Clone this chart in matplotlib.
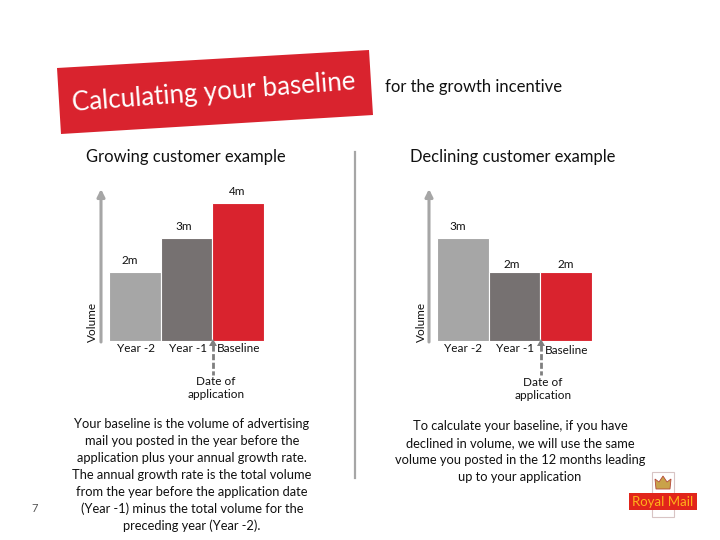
import matplotlib
matplotlib.use('Agg')
import matplotlib.pyplot as plt
from matplotlib.patches import Polygon, Rectangle

plt.rcParams['font.family'] = ['Lato', 'DejaVu Sans']

categories = ['Year -2', 'Year -1', 'Baseline']
growing_values = [2, 3, 4]
declining_values = [3, 2, 2]
growing_labels = ['2m', '3m', '4m']
declining_labels = ['3m', '2m', '2m']
bar_colors = ['#a6a6a6', '#767171', '#d9232e']

RED = '#d9232e'
GREY = '#a6a6a6'
TEXT = '#111111'

W, H = 720, 540
fig = plt.figure(figsize=(7.2, 5.4), dpi=100)


def px_axes(x0, y0, x1, y1):
    # pixel box measured from the top left corner
    return fig.add_axes([x0 / W, 1 - y1 / H, (x1 - x0) / W, (y1 - y0) / H])


def draw_bars(ax, values, labels, label_dx, label_dy):
    ax.bar(range(3), values, width=1.0, color=bar_colors, edgecolor='white', linewidth=0.8)
    ax.set_xlim(-0.5, 2.5)
    ax.set_ylim(0, 4)
    ax.axis('off')
    for i, (v, lab) in enumerate(zip(values, labels)):
        ax.annotate(lab, (i, v), xytext=(label_dx[i], label_dy[i]), textcoords='offset pixels',
                    ha='center', va='center', fontsize=8.5, color=TEXT, annotation_clip=False)


ax_left = px_axes(109, 203, 264, 341)
draw_bars(ax_left, growing_values, growing_labels, [-5, -3, -1], [12, 11, 12])

ax_right = px_axes(437, 203, 592, 341)
draw_bars(ax_right, declining_values, declining_labels, [-5, -3, 0], [11, 8, 8])

# everything else sits on a full page overlay in pixel coordinates
page = fig.add_axes([0, 0, 1, 1], zorder=-1)
page.set_xlim(0, W)
page.set_ylim(H, 0)
page.axis('off')
over = fig.add_axes([0, 0, 1, 1], zorder=5)
over.set_xlim(0, W)
over.set_ylim(H, 0)
over.axis('off')
over.patch.set_alpha(0)

# header banner
page.add_patch(Polygon([(57, 68), (369, 50), (373, 115), (61, 134)], closed=True, color=RED, lw=0))
page.text(214, 93, 'Calculating your baseline', color='white', fontsize=18.6, rotation=4.4,
          ha='center', va='center', rotation_mode='anchor')
page.text(474, 87, 'for the growth incentive', color=TEXT, fontsize=12, ha='center', va='center')
page.text(186, 157, 'Growing customer example', color=TEXT, fontsize=11.9, ha='center', va='center')
page.text(513, 157, 'Declining customer example', color=TEXT, fontsize=11.9, ha='center', va='center')

# divider between both examples
page.plot([355, 355], [152, 478], color=GREY, lw=1.6)

# volume arrows
for x in (101, 429):
    page.annotate('', xy=(x, 189), xytext=(x, 342),
                  arrowprops=dict(arrowstyle='-|>', color=GREY, lw=2.2, mutation_scale=11,
                                  shrinkA=0, shrinkB=0))
page.text(92, 322, 'Volume', rotation=90, fontsize=8.5, color=TEXT, ha='center', va='center')
page.text(421, 322, 'Volume', rotation=90, fontsize=8.5, color=TEXT, ha='center', va='center')

# x labels
for x, y, lab in zip((136, 188, 239), (349, 349, 349), categories):
    page.text(x, y, lab, fontsize=8.5, color=TEXT, ha='center', va='center')
for x, y, lab in zip((463, 515, 567), (349, 349, 350), categories):
    page.text(x, y, lab, fontsize=8.5, color=TEXT, ha='center', va='center')

# date of application arrows, dashed shaft with a solid head
for x in (213, 541):
    over.plot([x, x], [345, 375], color='#7f7f7f', lw=2.0, ls=(0, (2.2, 0.9)))
    over.add_patch(Polygon([(x - 4, 346), (x, 339), (x + 4, 346)], closed=True, color='#7f7f7f', lw=0))
page.text(216, 388, 'Date of\napplication', fontsize=8.5, color=TEXT, ha='center', va='center', linespacing=1.25)
page.text(543, 389, 'Date of\napplication', fontsize=8.5, color=TEXT, ha='center', va='center', linespacing=1.25)

# body copy
growing_copy = ['Your baseline is the volume of advertising', 'mail you posted in the year before the',
                'application plus your annual growth rate.', 'The annual growth rate is the total volume',
                'from the year before the application date', '(Year -1) minus the total volume for the',
                'preceding year (Year -2).']
declining_copy = ['To calculate your baseline, if you have', 'declined in volume, we will use the same',
                  'volume you posted in the 12 months leading', 'up to your application']
for i, line in enumerate(growing_copy):
    page.text(192, 424.5 + i * 16.8, line, fontsize=9.3, color=TEXT, ha='center', va='center')
for i, line in enumerate(declining_copy):
    page.text(520, 426 + i * 17, line, fontsize=9.3, color=TEXT, ha='center', va='center')
page.text(35, 509, '7', fontsize=8, color='#555555', ha='center', va='center')

# logo
page.add_patch(Rectangle((652, 472), 22, 45, fill=False, edgecolor='#d8c4c4', lw=0.8))
page.add_patch(Polygon([(656, 489), (655, 479), (659, 482), (663, 476), (667, 482), (671, 479), (670, 489)],
                       closed=True, facecolor='#c9a24a', edgecolor='#b5483a', lw=0.6))
page.add_patch(Rectangle((629, 493), 68, 17, color='#e1251b', lw=0, zorder=3))
page.text(663, 501.5, 'Royal Mail', color='#ffb01a', fontsize=9.5,
          ha='center', va='center', zorder=4)

fig.savefig('out.png', dpi=100)
